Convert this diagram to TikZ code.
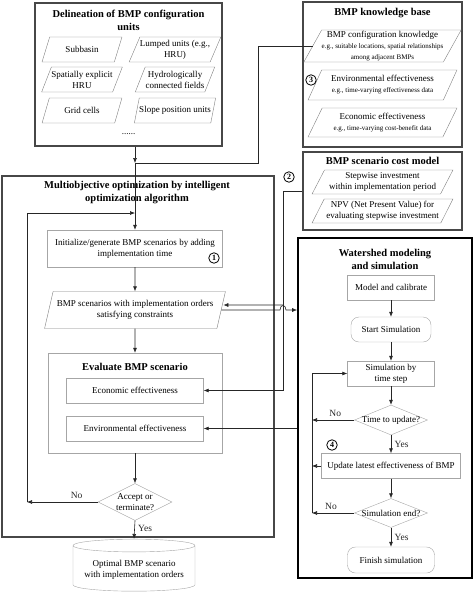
\documentclass[tikz,border=0pt]{standalone}
\usepackage{fontspec}
\setmainfont{Liberation Serif}
\usetikzlibrary{shapes,arrows,arrows.meta,positioning,calc}

\newcommand{\egtext}{\fontsize{7}{8.5}\selectfont}

\begin{document}
\begin{tikzpicture}[x=1pt,y=-1pt,>={Latex[length=5pt,width=4pt]},
    every node/.style={font=\fontsize{9}{11}\selectfont},
    frame/.style={draw=black!72,line width=1.3pt,inner sep=0pt},
    boxtitle/.style={font=\fontsize{10.5}{13}\selectfont\bfseries,align=center},
    unit/.style={draw=black!50,trapezium,trapezium left angle=62,
      trapezium right angle=118,trapezium stretches=true,align=center,
      inner xsep=0pt,inner ysep=0.5pt},
    proc/.style={draw=black!35,rectangle,align=center,inner sep=1pt},
    term/.style={proc,rounded corners=8pt},
    decision/.style={draw=black!35,diamond,inner sep=0pt},
    num/.style={draw,circle,inner sep=0pt,minimum size=10.5pt,line width=0.8pt,
      font=\fontsize{8}{8}\selectfont\bfseries},
    yesno/.style={font=\fontsize{9.5}{11}\selectfont},
    link/.style={->,line width=0.6pt,black!85}
  ]
  \useasboundingbox (0,0) rectangle (474,598);

  % configuration units
  \node[frame,minimum width=187pt,minimum height=143pt] (delin) at (128.5,74.5) {};
  \node[boxtitle] (delintitle) at (128.5,20) {Delineation of BMP configuration\\units};
  \foreach \name/\x/\y/\txt in {sub/82/49.5/{Subbasin},
      lump/175/49.5/{Lumped units (e.g.,\\HRU)},
      hru/82/79.5/{Spatially explicit\\HRU},
      hydro/175/79.5/{Hydrologically\\connected fields},
      grid/82/110.5/{Grid cells},
      slope/175/110.5/{Slope position units}} {
    \node[unit,minimum width=80pt,minimum height=25pt] (\name) at (\x,\y) {\txt};
  }
  \node (dots) at (128.5,134) {......};

  % knowledge base
  \node[frame,minimum width=159pt,minimum height=145pt] (kb) at (382.5,74.5) {};
  \node[boxtitle] (kbtitle) at (382.5,13.5) {BMP knowledge base};
  \node[unit,trapezium left angle=60,trapezium right angle=120,
    minimum width=149pt,minimum height=32pt] (know1) at (382.5,46)
    {BMP configuration knowledge\\{\egtext e.g., suitable locations, spatial relationships}\\{\egtext among adjacent BMPs}};
  \node[unit,trapezium left angle=60,trapezium right angle=120,
    minimum width=149pt,minimum height=30pt] (know2) at (382.5,85)
    {Environmental effectiveness\\{\egtext e.g., time-varying effectiveness data}};
  \node[unit,trapezium left angle=60,trapezium right angle=120,
    minimum width=149pt,minimum height=29pt] (know3) at (382.5,122.5)
    {Economic effectiveness\\{\egtext e.g., time-varying cost-benefit data}};
  \node[num] (n3) at (311,80) {3};

  % cost model
  \node[frame,minimum width=159pt,minimum height=78pt] (cost) at (382.5,191) {};
  \node[boxtitle] (costtitle) at (382.5,160.5) {BMP scenario cost model};
  \node[unit,trapezium left angle=60,trapezium right angle=120,
    minimum width=141pt,minimum height=24pt] (cost1) at (382.5,182)
    {Stepwise investment\\within implementation period};
  \node[unit,trapezium left angle=60,trapezium right angle=120,
    minimum width=141pt,minimum height=24pt] (cost2) at (382.5,211)
    {NPV (Net Present Value) for\\evaluating stepwise investment};
  \node[num] (n2) at (289,177) {2};

  % optimization
  \node[frame,minimum width=272pt,minimum height=361pt] (moo) at (138,356.5) {};
  \node[boxtitle] (mootitle) at (137,192.5) {Multiobjective optimization by intelligent\\optimization algorithm};
  \node[proc,minimum width=175pt,minimum height=37pt] (init) at (135,248.5)
    {Initialize/generate BMP scenarios by adding\\implementation time};
  \node[num] (n1) at (214,258) {1};
  \node[unit,trapezium left angle=68,trapezium right angle=112,
    minimum width=181pt,minimum height=37pt] (scen) at (135,310)
    {BMP scenarios with implementation orders\\satisfying constraints};
  \node[proc,minimum width=174pt,minimum height=100pt] (eval) at (135,403) {};
  \node[boxtitle] (evaltitle) at (135,367) {Evaluate BMP scenario};
  \node[proc,minimum width=137pt,minimum height=25pt] (econE) at (135,390.5) {Economic effectiveness};
  \node[proc,minimum width=137pt,minimum height=25pt] (envE) at (135,428.5) {Environmental effectiveness};
  \node[decision,minimum width=74pt,minimum height=37pt,
    label={[align=center]center:Accept or\\terminate?}] (accept) at (135,502) {};
  \node[draw=black!35,cylinder,shape border rotate=90,aspect=0.12,
    minimum width=122pt,minimum height=52pt,align=center] (opt) at (134,569.5)
    {Optimal BMP scenario\\with implementation orders};

  % watershed model
  \node[frame,draw=black,line width=1.7pt,minimum width=174pt,minimum height=340pt] (ws) at (385,408) {};
  \node[boxtitle] (wstitle) at (385,259.5) {Watershed modeling\\and simulation};
  \node[proc,minimum width=87pt,minimum height=25pt] (model) at (391,287.5) {Model and calibrate};
  \node[term,minimum width=80pt,minimum height=25pt] (start) at (391,329.5) {Start Simulation};
  \node[proc,minimum width=87pt,minimum height=25pt] (step) at (391,373.5) {Simulation by\\time step};
  \node[decision,minimum width=73pt,minimum height=30pt,
    label={center:Time to update?}] (tup) at (391,420) {};
  \node[proc,minimum width=139pt,minimum height=25pt] (upd) at (391,466) {Update latest effectiveness of BMP};
  \node[num] (n4) at (332,445) {4};
  \node[decision,minimum width=73pt,minimum height=29pt,
    label={center:Simulation end?}] (send) at (391,513) {};
  \node[term,minimum width=87pt,minimum height=26pt] (finish) at (391,560) {Finish simulation};

  % bends
  \coordinate (join) at (135,163);
  \coordinate (kbend) at (258,163);
  \coordinate (looptop) at (135,213);
  \coordinate (lloop) at (27,0);
  \coordinate (rloop) at (312,0);
  \coordinate (costdown) at (283,390.5);
  \coordinate (costtap) at (283,305);
  \coordinate (jumpA) at (280,310);
  \coordinate (jumpB) at (286,310);

  % main flow
  \draw[link] (delin.south -| join) -- (join);
  \draw[line width=0.6pt,black!85] (know1.west) -| (kbend) -- (join);
  \draw[link] (join) -- (init.north);
  \draw[link] (init.south) -- (scen.north);
  \draw[link] (scen.south) -- (eval.north);
  \draw[link] (eval.south) -- (accept.north);
  \draw[link] (accept.south) -- node[yesno,right,pos=0.4] {Yes} (opt.north);
  \draw[link] (accept.west) -- node[yesno,above,pos=0.3] {No} (accept.west -| lloop);
  \draw[link] (accept.west -| lloop) |- (looptop);

  % links between models
  \draw[link] (cost.west) -| (costdown) -- (econE.east);
  \draw[link] (costtap) -- ([xshift=2pt,yshift=5pt]scen.east);
  \draw[link] (scen.east) -- (jumpA) .. controls +(0,-6) and +(0,-6) .. (jumpB) -- (scen.east -| ws.west);
  \draw[link] (envE.east -| ws.west) -- (envE.east);

  % simulation loop
  \draw[link] (model) -- (start);
  \draw[link] (start) -- (step);
  \draw[link] (step) -- (tup);
  \draw[link] (tup) -- node[yesno,right] {Yes} (upd);
  \draw[link] (upd) -- (send);
  \draw[link] (send) -- node[yesno,right] {Yes} (finish);
  \draw[link] (tup.west) -- node[yesno,above,pos=0.45] {No} (tup.west -| rloop);
  \draw[link] (upd.west) -- (upd.west -| rloop);
  \draw[link] (send.west) -- node[yesno,above,pos=0.55] {No} (send.west -| rloop);
  \draw[link] (send.west -| rloop) |- (step.west);
\end{tikzpicture}
\end{document}
